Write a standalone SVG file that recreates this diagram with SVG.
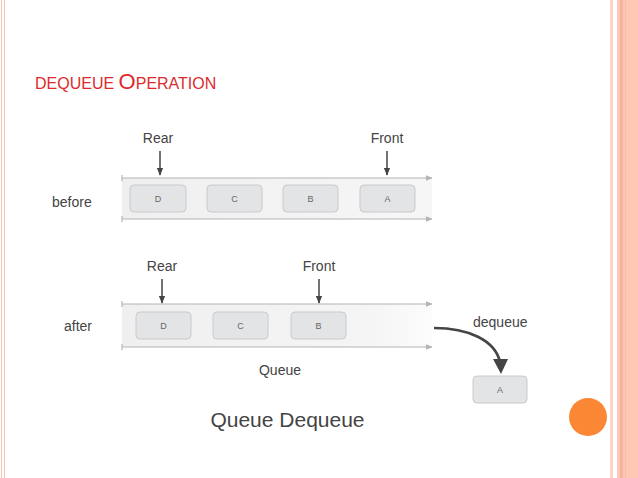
<svg xmlns="http://www.w3.org/2000/svg" width="638" height="478" viewBox="0 0 638 478">
<defs>
<style>
.lbl{font-family:"Liberation Sans",Arial,sans-serif;fill:#444;}
.cell rect{fill:#e3e4e6;stroke:#c9cacd;stroke-width:1;}
.cell text{font-family:"Liberation Sans",Arial,sans-serif;font-size:9px;fill:#666;text-anchor:middle;}
.rail{stroke:#b4b4b4;stroke-width:1.2;fill:none;marker-end:url(#ga);}
.ptr{stroke:#444;stroke-width:1.5;fill:none;marker-end:url(#da);}
</style>
<marker id="ga" viewBox="0 0 10 10" refX="9" refY="5" markerWidth="7" markerHeight="7" markerUnits="userSpaceOnUse" orient="auto"><path d="M0,1 L10,5 L0,9 Z" fill="#b4b4b4"/></marker>
<marker id="da" viewBox="0 0 10 10" refX="9" refY="5" markerWidth="8" markerHeight="8" markerUnits="userSpaceOnUse" orient="auto"><path d="M0,1 L10,5 L0,9 Z" fill="#444"/></marker>
<linearGradient id="s1" x1="0" x2="1" y1="0" y2="0"><stop offset="0" stop-color="#efefef"/><stop offset="1" stop-color="#f6f6f6"/></linearGradient>
<linearGradient id="s2" x1="0" x2="1" y1="0" y2="0"><stop offset="0" stop-color="#efefef"/><stop offset="0.8" stop-color="#f5f5f5"/><stop offset="1" stop-color="#fcfcfc"/></linearGradient>
</defs>
<rect width="638" height="478" fill="#ffffff"/>
<!-- borders -->
<g id="border">
<line x1="1.5" y1="0" x2="1.5" y2="478" stroke="#f6c3b3" stroke-width="1"/>
<line x1="4.5" y1="0" x2="4.5" y2="478" stroke="#f6c3b3" stroke-width="1"/>
<rect x="610" y="0" width="3" height="478" fill="#fcd3c5"/>
<rect x="617" y="0" width="21" height="478" fill="#fdc9b6"/>
<rect x="620" y="0" width="3" height="478" fill="#f6b49c"/>
<rect x="625" y="0" width="1" height="478" fill="#f8bda7"/>
</g>
<circle id="dot" cx="588" cy="417" r="19" fill="#fb8634"/>
<!-- title -->
<text id="title" x="35" y="89" font-family="Liberation Sans,Arial,sans-serif" fill="#dc2a2e"><tspan font-size="16">DEQUEUE </tspan><tspan font-size="22">O</tspan><tspan font-size="16">PERATION</tspan></text>

<!-- before -->
<g id="before-strip">
<rect x="122" y="178" width="310" height="41" fill="url(#s1)"/>
</g>
<text class="lbl" x="52" y="207" font-size="14">before</text>
<text class="lbl" x="158" y="143" font-size="14" text-anchor="middle">Rear</text>
<text class="lbl" x="387" y="143" font-size="14" text-anchor="middle">Front</text>
<g id="before-D" class="cell"><rect x="130" y="185" width="56" height="27" rx="4"/><text x="158" y="202">D</text></g>
<g id="before-C" class="cell"><rect x="207" y="185" width="55" height="27" rx="4"/><text x="234.5" y="202">C</text></g>
<g id="before-B" class="cell"><rect x="283" y="185" width="55" height="27" rx="4"/><text x="310.5" y="202">B</text></g>
<g id="before-A" class="cell"><rect x="360" y="185" width="55" height="27" rx="4"/><text x="387.5" y="202">A</text></g>

<!-- after -->
<g id="after-strip">
<rect x="122" y="304" width="310" height="43" fill="url(#s2)"/>
</g>
<text class="lbl" x="64" y="331" font-size="14">after</text>
<text class="lbl" x="162" y="271" font-size="14" text-anchor="middle">Rear</text>
<text class="lbl" x="319" y="271" font-size="14" text-anchor="middle">Front</text>
<g id="after-D" class="cell"><rect x="136" y="312" width="55" height="27" rx="4"/><text x="163.5" y="329">D</text></g>
<g id="after-C" class="cell"><rect x="213" y="312" width="55" height="27" rx="4"/><text x="240.5" y="329">C</text></g>
<g id="after-B" class="cell"><rect x="291" y="312" width="55" height="27" rx="4"/><text x="318.5" y="329">B</text></g>
<g id="out-A" class="cell"><rect x="473" y="376" width="54" height="27" rx="4"/><text x="500" y="393">A</text></g>
<text class="lbl" x="473" y="327" font-size="14">dequeue</text>
<text class="lbl" x="280" y="375" font-size="14" text-anchor="middle">Queue</text>
<text class="lbl" x="287.5" y="427" font-size="21" text-anchor="middle" fill="#3e3e40">Queue Dequeue</text>

<g id="connectors">
<line class="rail" x1="122" y1="178" x2="432" y2="178"/>
<line class="rail" x1="122" y1="219" x2="432" y2="219"/>
<line x1="122" y1="175" x2="122" y2="181" stroke="#b4b4b4" stroke-width="1.2"/>
<line x1="122" y1="216" x2="122" y2="222" stroke="#b4b4b4" stroke-width="1.2"/>
<line class="ptr" x1="160" y1="151" x2="160" y2="175"/>
<line class="ptr" x1="387" y1="151" x2="387" y2="175"/>
<line class="rail" x1="122" y1="304" x2="432" y2="304"/>
<line class="rail" x1="122" y1="347" x2="432" y2="347"/>
<line x1="122" y1="301" x2="122" y2="307" stroke="#b4b4b4" stroke-width="1.2"/>
<line x1="122" y1="344" x2="122" y2="350" stroke="#b4b4b4" stroke-width="1.2"/>
<line class="ptr" x1="162" y1="279" x2="162" y2="303"/>
<line class="ptr" x1="319" y1="279" x2="319" y2="303"/>
<path d="M434,328 C468,328 495,340 500,362" stroke="#454547" stroke-width="2.6" fill="none"/>
<path d="M493,359 L508,359 L501,374 Z" fill="#454547"/>
</g>
</svg>
